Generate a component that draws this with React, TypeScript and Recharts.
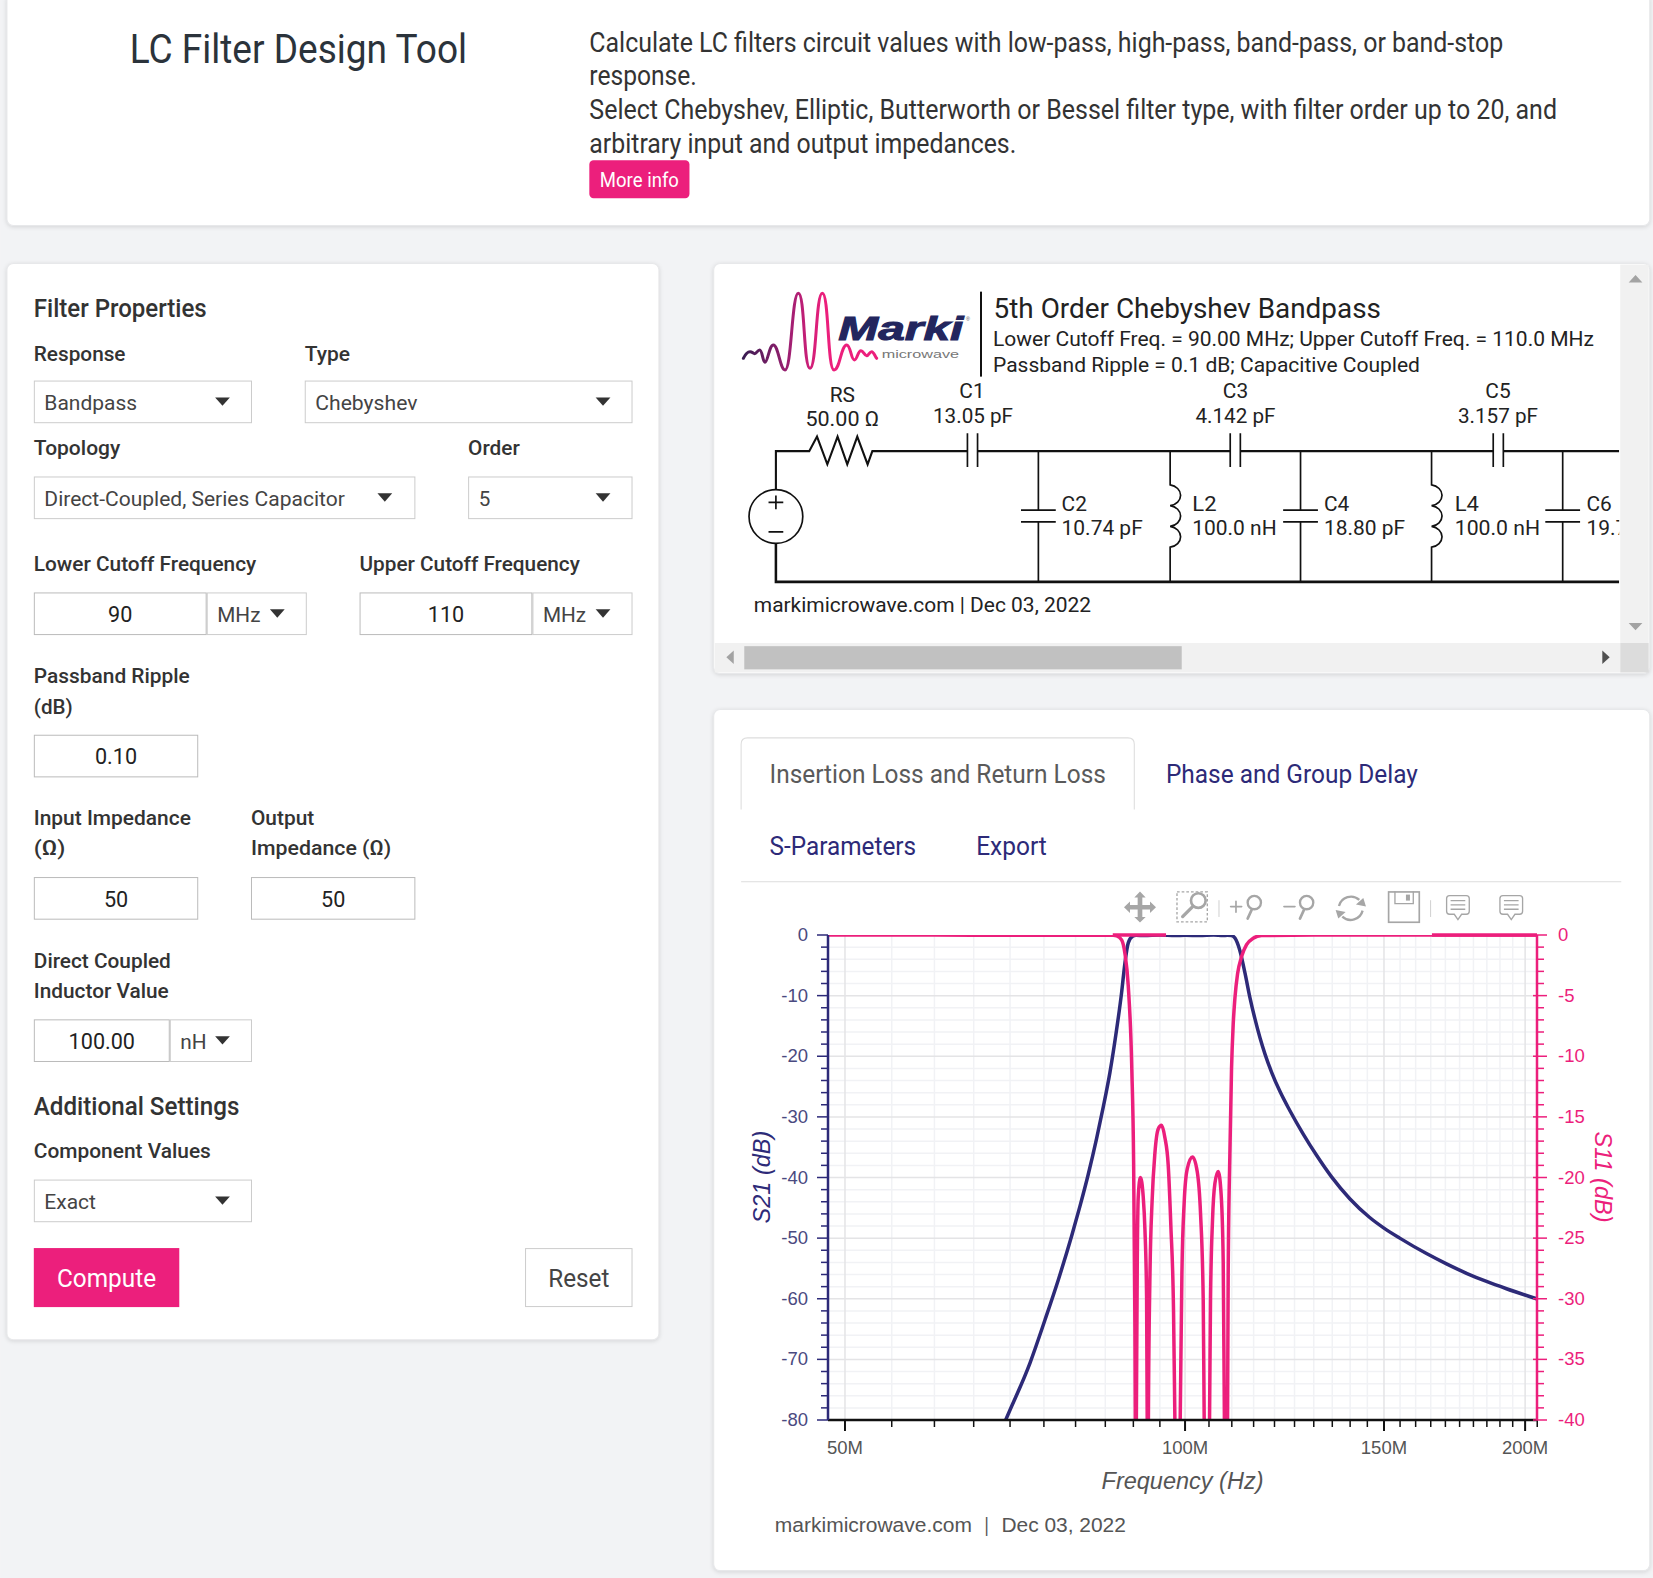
// LC filter tool page: the response plot is Recharts, the form and schematic around it are plain SVG
import React from "react";
import { LineChart, Line, XAxis, YAxis, ReferenceLine, Label } from "recharts";

const NAVY = "#2d2a78";
const PINK = "#ec1f7c";
const ROBOTO = "Roboto, sans-serif";
const HELV = "'Liberation Sans', Arial, sans-serif";

// ── Chart data (MHz / dB) ────────────────────────────────────────────────────
const s21Freq = [
  48.3, 60, 66, 69.38, 72.9, 75.16, 77.23, 79.35, 80.7, 82.09, 83.5, 84.64, 85.8, 86.98, 87.87, 88.47, 89.07,
  89.86, 90.5, 92, 95, 98, 100, 103, 106, 108, 109, 109.94, 110.7, 111.8, 113, 114.1, 115.3, 116.5, 117.7, 119.3,
  121.3, 123.8, 127.2, 130.7, 134.8, 139.9, 145.7, 150, 154.9, 163.58, 170.39, 177.47, 184.86, 192.55, 204.68,
];
const s21Db = [
  -135, -108, -90, -80, -70.6, -63.5, -56.9, -49.7, -44.8, -39.5, -33.6, -28.4, -22.7, -15.6, -9.5, -4.6, -1.3,
  -0.2, -0.04, -0.09, -0.02, -0.1, -0.03, -0.1, -0.02, -0.09, -0.04, -0.1, -0.5, -2.5, -6.3, -10.2, -13.8, -16.95, -19.65, -22.65,
  -25.75, -28.95, -32.8, -36.3, -39.9, -43.5, -46.6, -48.35, -50, -52.55, -54.25, -55.8, -57.15, -58.35, -60,
];
const s11Freq = [
  48.3, 60, 70, 80, 85, 86.38, 87, 87.87, 88.46, 89.07, 89.72, 90.05, 90.25, 90.38, 90.42, 90.55, 90.72, 90.9,
  91.3, 91.83, 92.15, 92.46, 92.58, 92.66, 92.8, 93.1, 93.5, 94.04, 94.68, 95.32, 95.97, 96.63, 97.15, 97.68,
  97.95, 98.48, 99.02, 99.36, 99.83, 100.44, 101.54, 102.51, 103.21, 103.77, 103.98, 104.55, 105.12, 105.33,
  105.76, 106.27, 106.99, 107.65, 108.09, 108.35, 108.82, 109.05, 109.19, 109.57, 109.94, 110.31, 110.7, 111.3, 112.2,
  113.36, 114.9, 116.88, 130, 150, 205,
];
const s11Db = [
  -0.01, -0.01, -0.02, -0.02, -0.02, -0.03, -0.08, -0.4, -1.5, -4.2, -11.1, -18.8, -30, -42, -55, -40, -27, -21.6,
  -20, -21.6, -24.3, -29.8, -40, -55, -40, -28, -22, -18, -16, -15.7, -16.7, -19, -24, -31,
  -40, -55, -40, -28, -22, -19.3, -18.3, -19.5, -23, -30, -40, -55, -40, -30,
  -23.5, -20.5, -19.5, -21.5, -27, -40, -55, -40, -28, -18, -11, -7.4, -5.2, -3.2, -1.8,
  -0.8, -0.27, -0.05, -0.01, -0.01, 0,
];

const xTicksMHz = [
  50, 55, 60, 65, 70, 75, 80, 85, 90, 95, 100, 105, 110, 115, 120, 125, 130, 135, 140, 145, 150, 155, 160, 165,
  170, 175, 180, 185, 190, 195, 200, 205,
];
const xMajorMHz = [50, 100, 150, 200];
const s21Ticks = [
  0, -2, -4, -6, -8, -10, -12, -14, -16, -18, -20, -22, -24, -26, -28, -30, -32, -34, -36, -38, -40, -42, -44, -46,
  -48, -50, -52, -54, -56, -58, -60, -62, -64, -66, -68, -70, -72, -74, -76, -78, -80,
];
const s21Major = [0, -10, -20, -30, -40, -50, -60, -70, -80];
const s11Ticks = [
  0, -1, -2, -3, -4, -5, -6, -7, -8, -9, -10, -11, -12, -13, -14, -15, -16, -17, -18, -19, -20, -21, -22, -23, -24,
  -25, -26, -27, -28, -29, -30, -31, -32, -33, -34, -35, -36, -37, -38, -39, -40,
];
const s11Major = [0, -5, -10, -15, -20, -25, -30, -35, -40];
const s11TopMarks = [
  [86.3, 96.2],
  [165.4, 204.9],
];

const xDomain = [48.3e6, 204.9e6];
const s21Rows = s21Freq.map((f, i) => ({ freq: f * 1e6, db: s21Db[i] }));
const s11Rows = s11Freq.map((f, i) => ({ freq: f * 1e6, db: s11Db[i] }));

// ── Page text: [string, x, baseline, width] in the page's 1568-wide space ────
const fieldLabels: [string, number, number, number][] = [
  ["Response", 32, 342, 87],
  ["Type", 289, 342, 43],
  ["Topology", 32, 432, 82],
  ["Order", 444, 432, 49],
  ["Lower Cutoff Frequency", 32, 542, 211],
  ["Upper Cutoff Frequency", 341, 542, 209],
  ["Passband Ripple", 32, 648, 148],
  ["(dB)", 32, 677, 37],
  ["Input Impedance", 32, 783, 149],
  ["(Ω)", 32, 811, 30],
  ["Output", 238, 783, 60],
  ["Impedance (Ω)", 238, 811, 133],
  ["Direct Coupled", 32, 918, 130],
  ["Inductor Value", 32, 947, 128],
  ["Component Values", 32, 1099, 168],
];
const headings: [string, number, number, number][] = [
  ["Filter Properties", 32, 301, 164],
  ["Additional Settings", 32, 1058, 195],
];
const descLines: [string, number, number, number][] = [
  ["Calculate LC filters circuit values with low-pass, high-pass, band-pass, or band-stop", 559, 49, 867],
  ["response.", 559, 81, 102],
  ["Select Chebyshev, Elliptic, Butterworth or Bessel filter type, with filter order up to 20, and", 559, 113, 918],
  ["arbitrary input and output impedances.", 559, 145, 405],
];
const selects: [string, number, number, number, number, number][] = [
  ["Bandpass", 32, 361, 207, 88, 211],
  ["Chebyshev", 289, 361, 311, 97, 572],
  ["Direct-Coupled, Series Capacitor", 32, 452, 362, 285, 365],
  ["5", 444, 452, 156, 11, 572],
  ["Exact", 32, 1119, 207, 49, 211],
];
const inputs: [string, number, number, number][] = [
  ["90", 32, 562, 164],
  ["110", 341, 562, 164],
  ["0.10", 32, 697, 156],
  ["50", 32, 832, 156],
  ["50", 238, 832, 156],
  ["100.00", 32, 967, 129],
];
const units: [string, number, number, number, number, number][] = [
  ["MHz", 196, 562, 95, 41, 263],
  ["MHz", 505, 562, 95, 41, 572],
  ["nH", 161, 967, 78, 25, 211],
];
const schemBig: [string, number, number, number][] = [
  ["Lower Cutoff Freq. = 90.00 MHz; Upper Cutoff Freq. = 110.0 MHz", 942, 328, 570],
  ["Passband Ripple = 0.1 dB; Capacitive Coupled", 942, 353, 405],
  ["RS", 787, 381, 24],
  ["50.00 Ω", 764, 404, 70],
  ["C1", 910, 378, 24],
  ["13.05 pF", 885, 401, 76],
  ["C3", 1160, 378, 24],
  ["4.142 pF", 1134, 401, 76],
  ["C5", 1409, 378, 24],
  ["3.157 pF", 1383, 401, 76],
  ["C2", 1007, 485, 24],
  ["10.74 pF", 1007, 508, 77],
  ["L2", 1131, 485, 23],
  ["100.0 nH", 1131, 508, 80],
  ["C4", 1256, 485, 24],
  ["18.80 pF", 1256, 508, 77],
  ["L4", 1380, 485, 23],
  ["100.0 nH", 1380, 508, 81],
  ["C6", 1505, 485, 24],
  ["19.72 pF", 1505, 508, 77],
  ["markimicrowave.com | Dec 03, 2022", 715, 581, 320],
];
const capSeries = [922.5, 1171.8, 1421.3];
const shuntCaps = [985, 1233.7, 1482.4];
const shuntInds = [1110, 1358];

function T({ s, x, y, w, size = 20, fill = "#333", weight = 400, font = ROBOTO }: any) {
  return (
    <text x={x} y={y} fontSize={size} fontFamily={font} fontWeight={weight} fill={fill}
      textLength={w} lengthAdjust="spacingAndGlyphs">
      {s}
    </text>
  );
}

function Caret({ x, y, fill = "#333" }: any) {
  return <path d={`M${x - 7} ${y - 3}h14l-7 8z`} fill={fill} />;
}

function Card({ x, y, w, h }: any) {
  return <rect x={x} y={y} width={w} height={h} rx={6} fill="#fff" stroke="#e7e8ea"
    style={{ filter: "drop-shadow(0 1px 2px rgba(0,0,0,0.12))" }} />;
}

function Toolbar() {
  const comment = "M1040 56q0-9 9-9h50q9 0 9 9v38q0 9-9 9h-14l-11 16-11-16h-14q-9 0-9-9z";
  const lines = "M1052 62h44M1052 75h44M1052 88h44";
  return (
    <g transform="scale(0.9486) translate(1100 880) scale(0.3333)" fill="none" stroke="#a6a6a6" strokeLinecap="round">
      <g fill="#a6a6a6" stroke="none">
        <path d="M120 35l17 18h-10v22h23v-10l18 17-18 17v-10h-23v22h10l-17 17-17-17h10v-22h-23v10l-18-17 18-17v10h23v-22h-10z" />
      </g>
      <rect x="231" y="36" width="91" height="90" strokeDasharray="8 6" strokeWidth="4" strokeLinecap="butt" />
      <circle cx="295" cy="62" r="22" strokeWidth="8" fill="#fff" />
      <path d="M278 80L248 110" strokeWidth="10" />
      <path d="M357 62v48" stroke="#d0d0d0" strokeWidth="3" />
      <path d="M392 80h33M408 64v33" strokeWidth="5" />
      <circle cx="463" cy="68" r="20" strokeWidth="7" />
      <path d="M455 90l-12 26" strokeWidth="8" />
      <path d="M552 80h33" strokeWidth="5" />
      <circle cx="620" cy="68" r="20" strokeWidth="7" />
      <path d="M612 90l-12 26" strokeWidth="8" />
      <path d="M717 78A37 37 0 0 1 778 60" strokeWidth="7" strokeLinecap="butt" />
      <path d="M788 92A37 37 0 0 1 727 110" strokeWidth="7" strokeLinecap="butt" />
      <path d="M798 80l-30-6 22-20z" fill="#a6a6a6" stroke="none" />
      <path d="M707 90l30 6-22 20z" fill="#a6a6a6" stroke="none" />
      <rect x="866" y="36" width="92" height="91" strokeWidth="5" strokeLinecap="butt" />
      <path d="M885 36v35h55V36" strokeWidth="4" />
      <rect x="918" y="44" width="12" height="18" fill="#a6a6a6" stroke="none" />
      <path d="M992 62v48" stroke="#d0d0d0" strokeWidth="3" />
      {[0, 160].map((dx) => (
        <g key={dx} transform={`translate(${dx} 0)`}>
          <path d={comment} strokeWidth="4" />
          <path d={lines} strokeWidth="4" strokeLinecap="butt" />
        </g>
      ))}
    </g>
  );
}

function Logo() {
  return (
    <g transform="scale(0.9486) translate(735 285) scale(0.3333)">
      <path
        d="M25 220C32 205 38 200 45 200C52 200 55 207 60 206C65 205 68 195 74 195C82 195 83 232 90 232C98 232 103 180 115 180C130 180 135 255 150 255C170 255 170 25 190 25C210 25 205 250 225 250C245 250 242 25 262 25C282 25 277 255 297 255C315 255 318 180 335 180C347 180 348 225 358 225C367 225 368 197 378 197C385 197 388 212 395 212C402 212 403 200 410 200C416 200 420 214 425 220"
        fill="none" stroke="url(#logoWave)" strokeWidth="9" strokeLinecap="round" />
      <text x="310" y="165" fontFamily={HELV} fontStyle="italic" fontWeight="700" fontSize="98" fill="#23265e"
        stroke="#23265e" strokeWidth="3" textLength="375" lengthAdjust="spacingAndGlyphs">Marki</text>
      <text x="693" y="107" fontFamily={HELV} fontSize="16" fill="#555">®</text>
      <text x="440" y="220" fontFamily={HELV} fontSize="34" fill="#777" textLength="232" lengthAdjust="spacingAndGlyphs">microwave</text>
      <path d="M738 20v255" stroke="#111" strokeWidth="6" />
    </g>
  );
}

function Schematic() {
  return (
    <g clipPath="url(#schemClip)" fill="none" stroke="#111" strokeWidth="1.6">
      <path d="M736 464.5V428H767.6L775 414.2L784.8 440.5L794.5 414.2L803.7 440.5L813.2 414.2L823 440.5L827.5 428H917.7" strokeWidth="2" />
      <path d="M927.3 428H1166.9M1176.6 428H1416.7M1425.9 428H1536" strokeWidth="2" />
      <path d="M736 515.5V552H1536" strokeWidth="2.4" />
      <circle cx="736" cy="490" r="25.5" fill="#fff" />
      <path d="M729 476.5h14M736 470v13M729 504.5h14" />
      {capSeries.map((cx) => (
        <path key={cx} d={`M${cx - 4.8} 411V443M${cx + 4.8} 411V443`} />
      ))}
      {shuntCaps.map((cx) => (
        <path key={cx} d={`M${cx} 428V484M${cx - 16.5} 484H${cx + 16.5}M${cx - 16.5} 495H${cx + 16.5}M${cx} 495V552`} />
      ))}
      {shuntInds.map((cx) => (
        <path key={cx} d={`M${cx} 428V460a12 10 0 0 1 0 19.7a12 10 0 0 1 0 19.7a12 10 0 0 1 0 19.7V552`} />
      ))}
    </g>
  );
}

function PageBackdrop() {
  return (
    <svg width={1653} height={1578} viewBox="0 0 1568 1497" style={{ position: "absolute", left: 0, top: 0 }}>
      <defs>
        <linearGradient id="logoWave" x1="25" x2="425" y1="0" y2="0" gradientUnits="userSpaceOnUse">
          <stop offset="0" stopColor="#3a1c52" />
          <stop offset="0.35" stopColor="#a01f72" />
          <stop offset="0.6" stopColor="#ec1f7c" />
          <stop offset="1" stopColor="#ec1f7c" />
        </linearGradient>
        <clipPath id="schemClip">
          <rect x="700" y="255" width="836" height="355" />
        </clipPath>
      </defs>
      <rect x="0" y="0" width="1568" height="1497" fill="#f2f3f5" />
      <Card x={6.5} y={-6} w={1558.5} h={220} />
      <Card x={6.5} y={250} w={618.5} h={1021} />
      <Card x={677} y={250} w={888} h={389} />
      <Card x={677} y={673} w={888} h={817} />

      <T s="LC Filter Design Tool" x={123} y={60} w={320} size={38} fill="#2b333b" />
      {descLines.map(([s, x, y, w]) => <T key={s} s={s} x={x} y={y} w={w} size={26} />)}
      <rect x="559" y="152" width="95" height="36" rx="4" fill={PINK} />
      <T s="More info" x={569} y={177} w={75} fill="#fff" />

      {headings.map(([s, x, y, w]) => <T key={s} s={s} x={x} y={y} w={w} size={24} weight={500} />)}
      {fieldLabels.map(([s, x, y, w]) => <T key={s} s={s} x={x} y={y} w={w} weight={500} />)}
      {selects.map(([s, x, y, w, tw, cx]) => (
        <g key={s}>
          <rect x={x + 0.5} y={y + 0.5} width={w - 1} height={39.5} fill="#fff" stroke="#ccc" strokeWidth={0.95} />
          <T s={s} x={x + 10} y={y + 28} w={tw} fill="#444" />
          <Caret x={cx} y={y + 19} />
        </g>
      ))}
      {units.map(([s, x, y, w, tw, cx]) => (
        <g key={x}>
          <rect x={x + 0.5} y={y + 0.5} width={w - 1} height={39.5} fill="#fff" stroke="#ccc" strokeWidth={0.95} />
          <T s={s} x={x + 10} y={y + 28} w={tw} fill="#444" />
          <Caret x={cx} y={y + 19} />
        </g>
      ))}
      {inputs.map(([s, x, y, w]) => (
        <g key={`${s}${x}`}>
          <rect x={x + 0.5} y={y + 0.5} width={w - 1} height={39.5} fill="#fff" stroke="#bbb" strokeWidth={0.95} />
          <text x={x + w / 2} y={y + 28} textAnchor="middle" fontSize={20.5} fontFamily={ROBOTO} fill="#222">{s}</text>
        </g>
      ))}
      <rect x="32" y="1184" width="138" height="56" fill={PINK} />
      <T s="Compute" x={54} y={1221} w={94} size={24} fill="#fff" />
      <rect x="498.5" y="1184.5" width="101" height="55" fill="#fff" stroke="#ccc" strokeWidth={0.95} />
      <T s="Reset" x={520} y={1221} w={58} size={24} fill="#444" />

      <Logo />
      <T s="5th Order Chebyshev Bandpass" x={942.5} y={302} w={367.5} size={26} fill="#222" />
      <g clipPath="url(#schemClip)">
        {schemBig.map(([s, x, y, w]) => <T key={`${s}${x}`} s={s} x={x} y={y} w={w} fill="#222" />)}
      </g>
      <Schematic />
      <rect x="1537" y="251" width="27" height="359" fill="#f1f1f1" />
      <path d="M1545 268h13l-6.5-7zM1545 591h13l-6.5 7z" fill="#a3a3a3" />
      <rect x="678" y="610" width="859" height="28" fill="#f1f1f1" />
      <rect x="706" y="613" width="415" height="22" fill="#c1c1c1" />
      <path d="M696 617v13l-7-6.5z" fill="#a3a3a3" />
      <path d="M1520 617v13l7-6.5z" fill="#505050" />
      <rect x="1537" y="610" width="27" height="28" fill="#dcdcdc" />

      <path d="M703 768V706q0-6 6-6H1070q6 0 6 6V768" fill="none" stroke="#ddd" />
      <path d="M703 836.5H1538" stroke="#ddd" />
      <T s="Insertion Loss and Return Loss" x={730} y={743} w={319} size={25} fill="#5a5a5a" />
      <T s="Phase and Group Delay" x={1106} y={743} w={239} size={25} fill={NAVY} />
      <T s="S-Parameters" x={730} y={811} w={139} size={25} fill={NAVY} />
      <T s="Export" x={926} y={811} w={67} size={25} fill={NAVY} />
      <Toolbar />
      <T s="markimicrowave.com" x={735} y={1453} w={187} size={20} fill="#555" font={HELV} />
      <T s="|" x={934} y={1453} w={4} size={20} fill="#555" font={HELV} />
      <T s="Dec 03, 2022" x={950} y={1453} w={118} size={20} fill="#555" font={HELV} />
    </svg>
  );
}

// ── Axis ticks and rotated titles ────────────────────────────────────────────

function XTick({ x, y, payload }: any) {
  const mhz = Math.round(payload.value / 1e6);
  const major = xMajorMHz.includes(mhz);
  return (
    <g>
      <line x1={x} x2={x} y1={y} y2={y + (major ? 11 : 7)} stroke="#111" strokeWidth={major ? 2 : 1.5} />
      {major && (
        <text x={x} y={y + 34} textAnchor="middle" fontSize={18.5} fontFamily={HELV} fill="#555">{`${mhz}M`}</text>
      )}
    </g>
  );
}

function S21Tick({ x, y, payload }: any) {
  const major = s21Major.includes(payload.value);
  return (
    <g>
      <line x1={x - (major ? 11 : 7)} x2={x} y1={y} y2={y} stroke={NAVY} strokeWidth={1.5} />
      {major && (
        <text x={x - 20} y={y + 6} textAnchor="end" fontSize={18.5} fontFamily={HELV} fill="#4a4a80">{payload.value}</text>
      )}
    </g>
  );
}

function S11Tick({ x, y, payload }: any) {
  const major = s11Major.includes(payload.value);
  return (
    <g>
      <line x1={x - (major ? 4 : 0)} x2={x + (major ? 10 : 7)} y1={y} y2={y} stroke={PINK} strokeWidth={1.5} />
      {major && (
        <text x={x + 21} y={y + 6} textAnchor="start" fontSize={18.5} fontFamily={HELV} fill={PINK}>{payload.value}</text>
      )}
    </g>
  );
}

function AxisTitle({ s, x, angle, fill }: any) {
  return (
    <text transform={`translate(${x} 297) rotate(${angle})`} textAnchor="middle" fontSize={23.5}
      fontStyle="italic" fontFamily={HELV} fill={fill}>
      {s}
    </text>
  );
}

export default function App() {
  return (
    <div style={{ position: "absolute", left: 0, top: 0, width: 1653, height: 1578, overflow: "hidden" }}>
      <PageBackdrop />
      <div style={{ position: "absolute", left: 720, top: 880 }}>
        <LineChart width={933} height={680} margin={{ top: 55, right: 16, bottom: 40, left: 0 }}>
          <XAxis
            xAxisId="f"
            dataKey="freq"
            type="number"
            scale="log"
            domain={xDomain}
            allowDataOverflow
            ticks={xTicksMHz.map((m) => m * 1e6)}
            interval={0}
            height={100}
            tickSize={0}
            tickMargin={0}
            tick={XTick}
            tickLine={false}
            axisLine={{ stroke: "#111", strokeWidth: 2.5 }}
          >
            <Label value="Frequency (Hz)" position="insideBottom" offset={31} fontSize={23.5} fontStyle="italic" fontFamily={HELV} fill="#555" />
          </XAxis>
          <YAxis
            yAxisId="s21"
            type="number"
            domain={[-80, 0]}
            allowDataOverflow
            ticks={s21Ticks}
            interval={0}
            width={108}
            tickSize={0}
            tickMargin={0}
            tick={S21Tick}
            tickLine={false}
            axisLine={{ stroke: NAVY, strokeWidth: 2.5 }}
          >
            <Label content={() => <AxisTitle s="S21 (dB)" x={50} angle={-90} fill={NAVY} />} />
          </YAxis>
          <YAxis
            yAxisId="s11"
            orientation="right"
            type="number"
            domain={[-40, 0]}
            allowDataOverflow
            ticks={s11Ticks}
            interval={0}
            width={100}
            tickSize={0}
            tickMargin={0}
            tick={S11Tick}
            tickLine={false}
            axisLine={{ stroke: PINK, strokeWidth: 2.5 }}
          >
            <Label content={() => <AxisTitle s="S11 (dB)" x={875} angle={90} fill={PINK} />} />
          </YAxis>

          {s21Ticks.filter((v) => !s21Major.includes(v)).map((v) => (
            <ReferenceLine key={`h${v}`} xAxisId="f" yAxisId="s21" y={v} stroke="#f1f2f5" strokeWidth={1.5} />
          ))}
          {xTicksMHz.filter((m) => !xMajorMHz.includes(m)).map((m) => (
            <ReferenceLine key={`v${m}`} xAxisId="f" yAxisId="s21" x={m * 1e6} stroke="#f1f2f5" strokeWidth={1.5} />
          ))}
          {s21Major.filter((v) => v !== 0 && v !== -80).map((v) => (
            <ReferenceLine key={`H${v}`} xAxisId="f" yAxisId="s21" y={v} stroke="#e4e4e6" strokeWidth={1.5} />
          ))}
          {xMajorMHz.map((m) => (
            <ReferenceLine key={`V${m}`} xAxisId="f" yAxisId="s21" x={m * 1e6} stroke="#e4e4e6" strokeWidth={1.5} />
          ))}

          <Line xAxisId="f" yAxisId="s21" data={s21Rows} dataKey="db" name="S21" type="monotone"
            stroke={NAVY} strokeWidth={3.5} dot={false} isAnimationActive={false} />
          <Line xAxisId="f" yAxisId="s11" data={s11Rows} dataKey="db" name="S11" type="monotone"
            stroke={PINK} strokeWidth={3.5} dot={false} isAnimationActive={false} />
          {s11TopMarks.map(([a, b]) => (
            <ReferenceLine key={a} xAxisId="f" yAxisId="s11" stroke={PINK} strokeWidth={3.5}
              segment={[{ x: a * 1e6, y: 0 }, { x: b * 1e6, y: 0 }]} />
          ))}
        </LineChart>
      </div>
    </div>
  );
}
